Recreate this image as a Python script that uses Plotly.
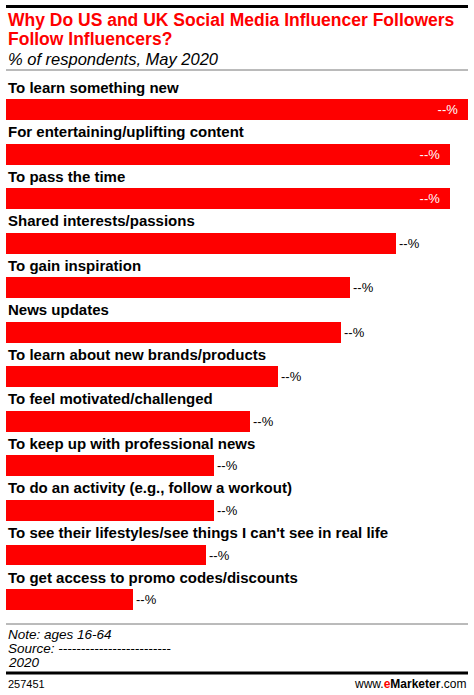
import plotly.graph_objects as go

categories = [
    "To learn something new",
    "For entertaining/uplifting content",
    "To pass the time",
    "Shared interests/passions",
    "To gain inspiration",
    "News updates",
    "To learn about new brands/products",
    "To feel motivated/challenged",
    "To keep up with professional news",
    "To do an activity (e.g., follow a workout)",
    "To see their lifestyles/see things I can't see in real life",
    "To get access to promo codes/discounts",
]
values = [44.0, 42.3, 42.3, 37.1, 32.8, 31.9, 25.9, 23.2, 19.8, 19.8, 19.0, 12.1]
value_labels = ["--%"] * len(values)

W, H = 474, 695
RED = "#fe0000"
FONT = "Liberation Sans"

idx = list(range(len(categories)))
inside = [v > 40 for v in values]
text_pos = ["inside" if f else "outside" for f in inside]
text_col = ["white" if f else "black" for f in inside]
shown = [t + ("\u00a0\u00a0" if f else "") for t, f in zip(value_labels, inside)]

fig = go.Figure(go.Bar(
    x=values, y=idx, orientation="h",
    marker=dict(color=RED, line=dict(width=0)),
    width=0.47,
    text=shown, textposition=text_pos,
    insidetextanchor="end",
    textfont=dict(family=FONT, size=13, color=text_col),
    cliponaxis=False,
))

def py(p):
    return 1 - p / H

pitch = 44.55
top_idx = -109.5 / pitch
bot_idx = (H - 109.5) / pitch

annotations = []
for i, c in enumerate(categories):
    annotations.append(dict(
        x=0, xref="x", y=i - 0.505, yref="y", text="<b>%s</b>" % c,
        showarrow=False, xanchor="left", yanchor="middle",
        font=dict(family=FONT, size=15, color="black"),
    ))

def ann(text, x, ypx, size, color="black", xanchor="left"):
    annotations.append(dict(
        x=x, xref="paper", y=py(ypx), yref="paper", text=text,
        showarrow=False, xanchor=xanchor, yanchor="middle",
        font=dict(family=FONT, size=size, color=color),
    ))

ann("<b>Why Do US and UK Social Media Influencer Followers</b>", 0, 20.5, 17.5, RED)
ann("<b>Follow Influencers?</b>", 0, 38.5, 17.5, RED)
ann("<i>% of respondents, May 2020</i>", 0, 58.5, 16.5)
ann("<i>Note: ages 16-64</i>", 0, 634, 13.5)
ann("<i>Source: -------------------------</i>", 0, 648, 13.5)
ann("<i>2020</i>", 0, 662, 13.5)
ann("257451", 0, 684, 11)
ann("www.<span style='color:%s'><b>e</b></span><b>Marketer</b>.com" % RED, 1, 684, 12, xanchor="right")

shapes = [
    dict(type="rect", xref="paper", yref="paper", x0=0, x1=1, y0=py(8), y1=py(5),
         fillcolor="black", line=dict(width=0)),
    dict(type="line", xref="paper", yref="paper", x0=0, x1=1, y0=py(70), y1=py(70),
         line=dict(color="#777777", width=1)),
    dict(type="line", xref="paper", yref="paper", x0=0, x1=1, y0=py(624), y1=py(624),
         line=dict(color="#777777", width=1)),
    dict(type="rect", xref="paper", yref="paper", x0=0, x1=1, y0=py(674.5), y1=py(671.5),
         fillcolor="black", line=dict(width=0)),
]

fig.update_layout(
    width=W, height=H,
    margin=dict(l=6, r=6, t=0, b=0, pad=0),
    paper_bgcolor="white", plot_bgcolor="white",
    showlegend=False,
    xaxis=dict(range=[0, 44], visible=False, fixedrange=True),
    yaxis=dict(range=[bot_idx, top_idx], visible=False, fixedrange=True),
    annotations=annotations, shapes=shapes,
    font=dict(family=FONT),
    bargap=0,
)

fig.write_html(
    "out.html",
    config=dict(displayModeBar=False),
    post_script="document.body.style.margin='0';document.body.style.padding='0';document.body.style.overflow='hidden';",
)
